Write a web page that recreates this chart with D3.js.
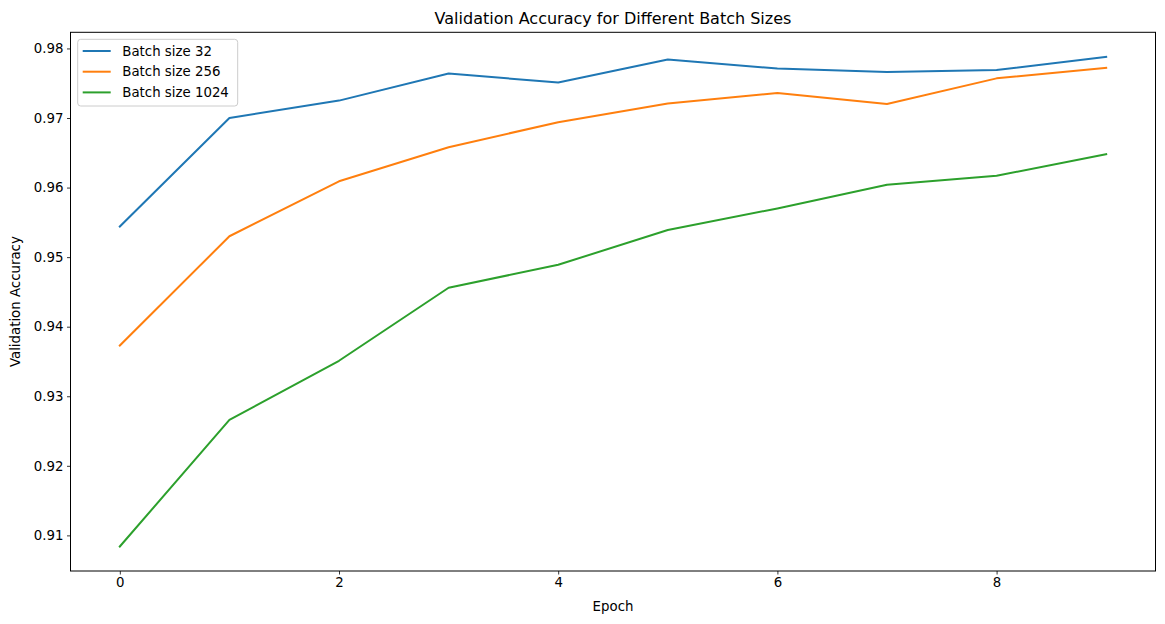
<!DOCTYPE html>
<html>
<head>
<meta charset="utf-8">
<script src="https://cdn.jsdelivr.net/npm/d3@7"></script>
<style>
  html, body { margin: 0; padding: 0; background: #fff; }
  text { font-family: "DejaVu Sans", sans-serif; fill: #000; }
</style>
</head>
<body>
<svg id="chart" width="1165" height="624"></svg>
<script>
const epochs = [0, 1, 2, 3, 4, 5, 6, 7, 8, 9];
const seriesNames = ["Batch size 32", "Batch size 256", "Batch size 1024"];
const batch32 = [0.9544, 0.9700, 0.9725, 0.9764, 0.9751, 0.9784, 0.9771, 0.9766, 0.9769, 0.9788];
const batch256 = [0.9373, 0.9530, 0.9609, 0.9658, 0.9694, 0.9721, 0.9736, 0.9720, 0.9757, 0.9772];
const batch1024 = [0.9084, 0.9266, 0.9351, 0.9456, 0.9489, 0.9539, 0.9570, 0.9604, 0.9617, 0.9648];
const colors = ["#1f77b4", "#ff7f0e", "#2ca02c"];
const xTicks = [0, 2, 4, 6, 8];
const yTicks = [0.91, 0.92, 0.93, 0.94, 0.95, 0.96, 0.97, 0.98];

const allSeries = [batch32, batch256, batch1024];
const svg = d3.select("#chart");
const L = 70.5, R = 1155.5, T = 32.3, B = 571;

const xMin = d3.min(epochs), xMax = d3.max(epochs);
const xPad = (xMax - xMin) * 0.05;
const x = d3.scaleLinear().domain([xMin - xPad, xMax + xPad]).range([L, R]);
const yAll = allSeries.flat();
const yMin = d3.min(yAll), yMax = d3.max(yAll);
const yPad = (yMax - yMin) * 0.05;
const y = d3.scaleLinear().domain([yMin - yPad, yMax + yPad]).range([B, T]);

// axes
const xAxis = svg.append("g").attr("transform", `translate(0,${B})`)
  .call(d3.axisBottom(x).tickValues(xTicks).tickFormat(d3.format("d")).tickSizeOuter(0).tickSize(3.5).tickPadding(3.5));
const yAxis = svg.append("g").attr("transform", `translate(${L},0)`)
  .call(d3.axisLeft(y).tickValues(yTicks).tickFormat(d3.format(".2f")).tickSizeOuter(0).tickSize(3.5).tickPadding(3.5));
[xAxis, yAxis].forEach(g => {
  g.select(".domain").remove();
  g.selectAll(".tick line").attr("stroke", "#000").attr("stroke-width", 0.8);
  g.selectAll(".tick text").attr("font-size", "13.33px").attr("font-family", "DejaVu Sans, sans-serif").attr("fill", "#000");
});

// lines
const line = d3.line().x((d, i) => x(epochs[i])).y(d => y(d));
allSeries.forEach((s, i) => {
  svg.append("path").datum(s)
    .attr("d", line)
    .attr("fill", "none")
    .attr("stroke", colors[i])
    .attr("stroke-width", 2)
    .attr("stroke-linejoin", "round")
    .attr("stroke-linecap", "square");
});

// frame
svg.append("rect").attr("x", L).attr("y", T).attr("width", R - L).attr("height", B - T)
  .attr("fill", "none").attr("stroke", "#000").attr("stroke-width", 1);

// title and labels
svg.append("text").attr("x", (L + R) / 2).attr("y", T - 8).attr("text-anchor", "middle")
  .attr("font-size", "16px").text("Validation Accuracy for Different Batch Sizes");
svg.append("text").attr("x", (L + R) / 2).attr("y", 611).attr("text-anchor", "middle")
  .attr("font-size", "13.33px").text("Epoch");
svg.append("text").attr("transform", `translate(20,${(T + B) / 2}) rotate(-90)`).attr("text-anchor", "middle")
  .attr("font-size", "13.33px").text("Validation Accuracy");

// legend
const lg = svg.append("g");
lg.append("rect").attr("x", 77.7).attr("y", 39.3).attr("width", 160).attr("height", 66.7)
  .attr("rx", 3).attr("fill", "#fff").attr("fill-opacity", 0.8).attr("stroke", "#ccc").attr("stroke-width", 1);
seriesNames.forEach((name, i) => {
  const yy = 51 + i * 20.7;
  lg.append("line").attr("x1", 82.7).attr("x2", 110.7).attr("y1", yy).attr("y2", yy)
    .attr("stroke", colors[i]).attr("stroke-width", 2);
  lg.append("text").attr("x", 122.3).attr("y", yy + 4.7).attr("font-size", "13.33px").text(name);
});
</script>
</body>
</html>
